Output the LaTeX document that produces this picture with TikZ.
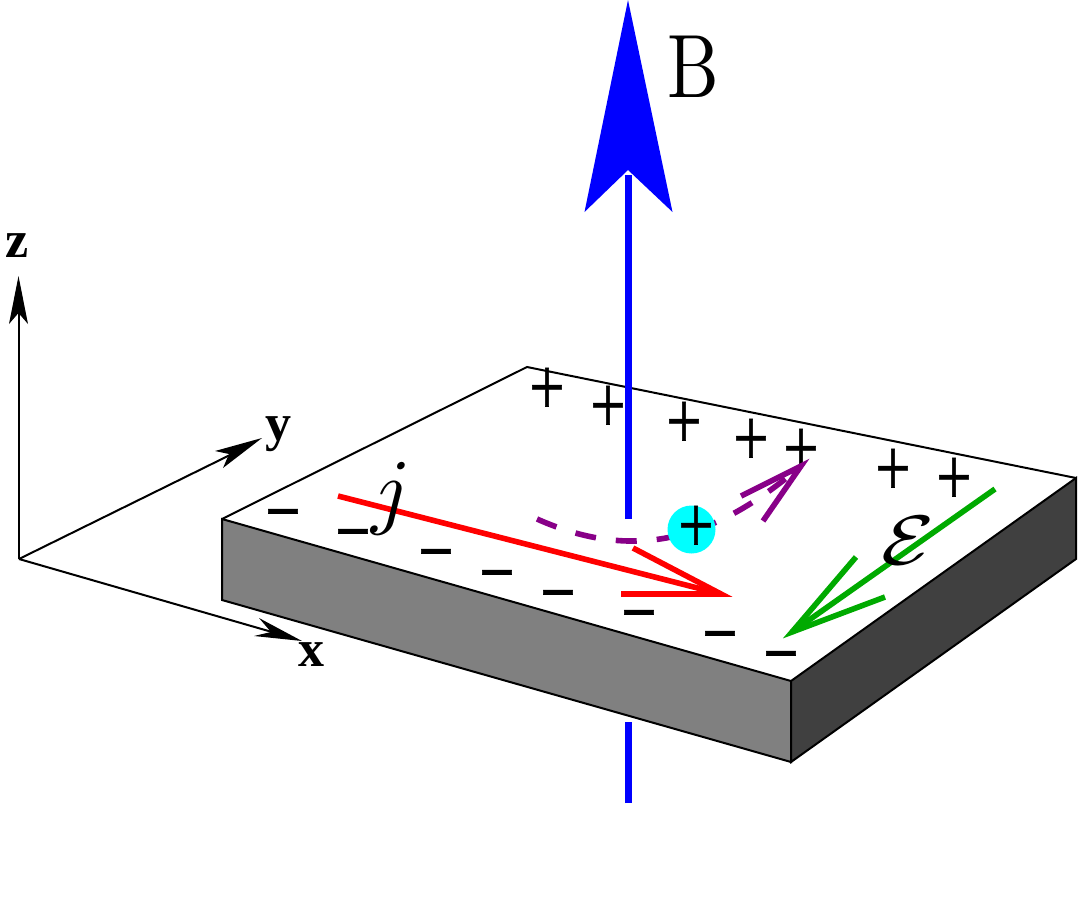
\documentclass[tikz,border=0pt]{standalone}
\usepackage{fontspec}
\newfontfamily\signfont[BoldFont={Liberation Serif},BoldFeatures={FakeBold=1.0}]{Liberation Serif}
\newfontfamily\labelfont{Liberation Serif}
\tikzset{
  edge/.style={draw=black,line width=2pt,line join=miter},
  sign/.style={inner sep=0pt,outer sep=0pt,font=\signfont\bfseries\fontsize{74}{74}\selectfont,yscale=1.12,xscale=0.85},
  axislabel/.style={inner sep=0pt,font=\labelfont\bfseries\fontsize{52}{52}\selectfont},
  shaft/.style={line width=5.6pt,line cap=butt},
  barbs/.style={line width=5.6pt,line cap=butt,line join=miter,miter limit=30},
  pole/.style={draw=pureblue,line width=7pt},
}
\definecolor{darkgreen}{RGB}{0,170,0}
\definecolor{dpurple}{RGB}{136,0,136}
\definecolor{ioncyan}{RGB}{0,255,255}
\definecolor{pureblue}{RGB}{0,0,255}
\definecolor{purered}{RGB}{255,0,0}
\newcommand{\plusat}[3]{\node[sign,yshift=-3pt] (#1) at (#2,#3) {+};}
\newcommand{\minusat}[3]{\node[sign,yshift=-12.5pt] (#1) at (#2,#3) {−};}
\begin{document}
\begin{tikzpicture}[x=1pt,y=-1pt]
\useasboundingbox (0,0) rectangle (1079,897);
% plate corners
\coordinate (A) at (222,519);
\coordinate (Bk) at (527,367);
\coordinate (Cc) at (1076,478);
\coordinate (Dd) at (791,681);
\coordinate (Ae) at (222,600);
\coordinate (Ce) at (1076,559);
\coordinate (De) at (791,762);
% axes
\coordinate (O) at (19,559);
\coordinate (Zt) at (19,313);
\coordinate (Yt) at (230,455);
\coordinate (Xt) at (272,632);
\draw[edge] (O) -- (Zt);
\draw[edge] (O) -- (Yt);
\draw[edge] (O) -- (Xt);
\fill[black] (18.5,276) -- (28,324) -- (18.5,313) -- (9,324) -- cycle;
\fill[black] (262,438) -- (223,468) -- (229,454) -- (215,451) -- cycle;
\fill[black] (302,641) -- (254,636) -- (271,632) -- (259,618) -- cycle;
\node[axislabel] (zl) at (17,245.5) {z};
\node[axislabel] (yl) at (278,434) {y};
\node[axislabel] (xl) at (311,654.5) {x};
% lower part of field line
\coordinate (Pb) at (628,803);
\coordinate (Pc) at (628,722);
\draw[pole] (Pb) -- (Pc);
% plate
\fill[white] (A) -- (Bk) -- (Cc) -- (Dd) -- cycle;
\draw[edge,fill=black!50] (A) -- (Dd) -- (De) -- (Ae) -- cycle;
\draw[edge,fill=black!75] (Dd) -- (Cc) -- (Ce) -- (De) -- cycle;
\draw[edge] (A) -- (Bk) -- (Cc);
% charges
\plusat{p1}{547}{388}
\plusat{p2}{608}{406}
\plusat{p3}{684}{422}
\plusat{p4}{751}{439}
\plusat{p5}{801}{449}
\plusat{p6}{893}{469}
\plusat{p7}{954}{478}
\minusat{m1}{283}{510}
\minusat{m2}{353}{530}
\minusat{m3}{436}{550}
\minusat{m4}{497}{571}
\minusat{m5}{558}{591}
\minusat{m6}{639}{611}
\minusat{m7}{720}{632}
\minusat{m8}{781}{652}
% field B
\coordinate (Pt) at (628,519);
\coordinate (Pa) at (628,175);
\draw[pole] (Pt) -- (Pa);
\fill[pureblue] (628,0) -- (672.5,212) -- (628,170) -- (584.5,212) -- cycle;
\node[inner sep=0pt,xscale=7.3,yscale=9,font=\normalsize] (Bl) at (693,67) {B};
% current j
\coordinate (Js) at (338,496);
\coordinate (Jt) at (721,594);
\coordinate (Ja) at (633,548);
\coordinate (Jb) at (621,594);
\draw[purered,shaft] (Js) -- (Jt);
\draw[purered,barbs] (Ja) -- (Jt) -- (Jb);
\node[inner sep=0pt,scale=8.5] (jl) at (391,499) {$j$};
% trajectory
\coordinate (Ts) at (537,519);
\coordinate (Tt) at (801,466);
\coordinate (Ta) at (741,496);
\coordinate (Tb) at (763,521);
\draw[dpurple,shaft,dash pattern=on 21pt off 20pt] (Ts) .. controls (640,565) and (720,535) .. (Tt);
\draw[dpurple,barbs] (Ta) -- (Tt) -- (Tb);
% charge
\node[circle,fill=ioncyan,minimum size=48pt,inner sep=0pt] (q) at (691.5,529.5) {};
\plusat{qp}{696}{526}
% field E
\coordinate (Es) at (995,489);
\coordinate (Et) at (792,632);
\coordinate (Ea) at (856,557);
\coordinate (Eb) at (885,597);
\draw[darkgreen,shaft] (Es) -- (Et);
\draw[darkgreen,barbs] (Ea) -- (Et) -- (Eb);
\node[inner sep=0pt,xscale=8.6,yscale=7] (El) at (908,541) {$\mathcal{E}$};
\end{tikzpicture}
\end{document}
